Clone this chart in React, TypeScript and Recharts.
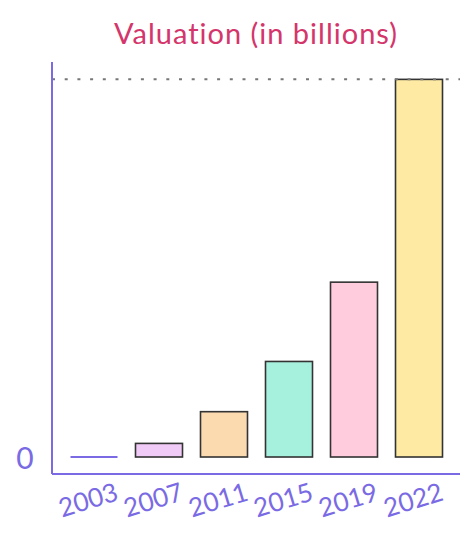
import React from "react";
import { BarChart, Bar, XAxis, YAxis, ReferenceLine, Cell } from "recharts";

const years = ["2003", "2007", "2011", "2015", "2019", "2022"];
const valuations = [0, 36, 120, 253, 463, 1000];
const barColors = ["#7b6be6", "#f1cbf8", "#fbdab0", "#a6f1dd", "#ffccdd", "#feeaa3"];
const yTicks = [0];
const title = "Valuation (in billions)";

const data = years.map((y, i) => ({ year: y, value: valuations[i] }));

const AXIS = "#7a6be4";
const FONT = "Lato, 'Noto Sans', sans-serif";

const BarShape = (props: any) => {
  const { x, y, width, height, fill } = props;
  if (!height || Math.abs(height) < 1) {
    return <line x1={x} x2={x + width} y1={y} y2={y} stroke={AXIS} strokeWidth={2} />;
  }
  return <rect x={x} y={y} width={width} height={height} fill={fill} stroke="#333" strokeWidth={1.6} />;
};

const XTick = (props: any) => {
  const { x, payload } = props;
  const cx = x - 6;
  const cy = 499;
  return (
    <text x={cx} y={cy} textAnchor="middle" dominantBaseline="central" fill={AXIS} fontSize={26} fontFamily={FONT} transform={`rotate(-17, ${cx}, ${cy})`}>
      {payload.value}
    </text>
  );
};

const YTick = (props: any) => {
  const { y, payload } = props;
  return (
    <text x={25} y={y} textAnchor="middle" dominantBaseline="central" fill={AXIS} fontSize={30} fontFamily={FONT}>
      {payload.value}
    </text>
  );
};

export default function App() {
  return (
    <div style={{ position: "absolute", left: 0, top: 0, width: 474, height: 540, background: "#fff" }}>
      <div style={{ position: "absolute", left: 52, top: 14, width: 408, textAlign: "center", color: "#d4356b", fontFamily: FONT, fontSize: 29, lineHeight: "38px", letterSpacing: 1 }}>
        {title}
      </div>
      <BarChart width={474} height={540} data={data} margin={{ top: 62, right: 14, bottom: 0, left: 0 }}>
        <XAxis dataKey="year" height={66} padding={{ left: 9.5, right: 8.5 }} axisLine={{ stroke: AXIS, strokeWidth: 2 }} tickLine={false} tick={<XTick />} interval={0} />
        <YAxis width={52} domain={[-45, 1046]} ticks={yTicks} allowDataOverflow axisLine={{ stroke: AXIS, strokeWidth: 2 }} tickLine={false} tick={<YTick />} />
        <ReferenceLine y={1000} stroke="#777" strokeWidth={2} strokeDasharray="3 9.7" />
        <Bar dataKey="value" barSize={47} isAnimationActive={false} shape={<BarShape />}>
          {data.map((d, i) => (
            <Cell key={d.year} fill={barColors[i]} />
          ))}
        </Bar>
      </BarChart>
    </div>
  );
}
